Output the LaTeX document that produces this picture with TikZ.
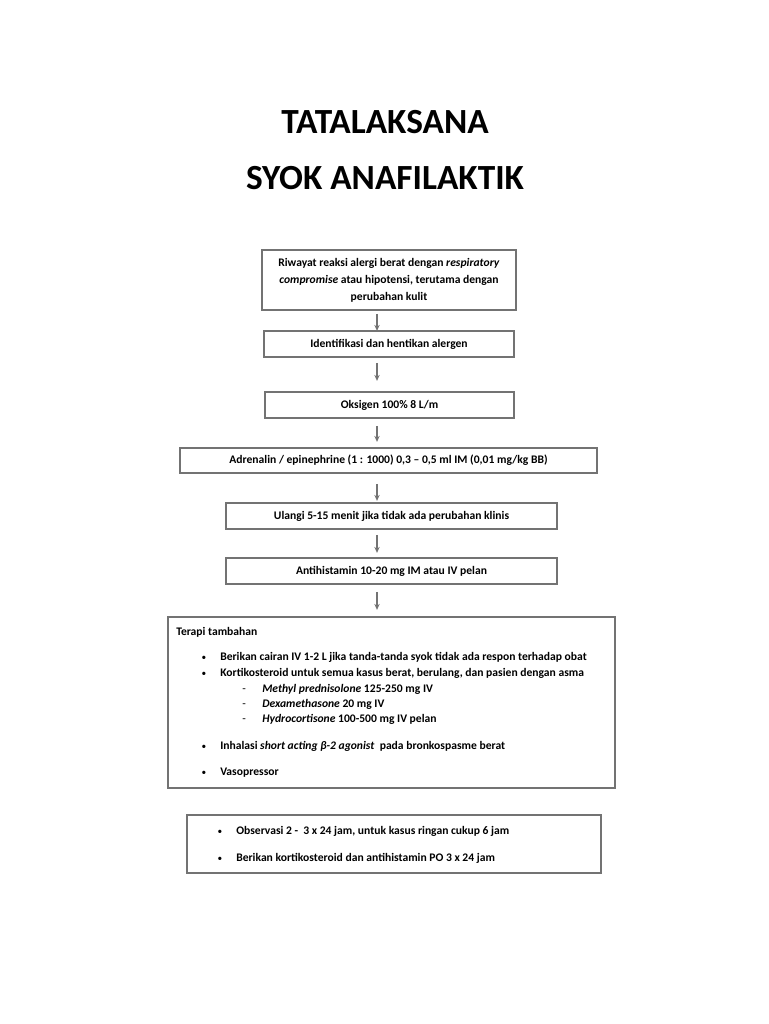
\documentclass[tikz,border=0pt]{standalone}
\usepackage{fontspec}
\setmainfont{Carlito}
\usetikzlibrary{arrows.meta}

\newcommand{\blt}{\makebox[15pt][l]{\hspace{1pt}\fontsize{7}{8}\selectfont\mdseries\textbullet}}
\newcommand{\dsh}{\makebox[15pt][l]{\mdseries -}}

\begin{document}
\begin{tikzpicture}[x=0.75pt, y=-0.75pt,
    stepbox/.style={rectangle, draw=black!55, line width=1.3pt, fill=white, minimum height=19.5pt, inner sep=2pt, font=\fontsize{8.7}{12.75}\selectfont\bfseries},
    line/.style={anchor=west, inner sep=0pt, font=\fontsize{8.7}{12.75}\selectfont\bfseries},
    flow/.style={-{Stealth[length=4.5pt, width=4pt]}, draw=black!55, line width=0.8pt}]
    \useasboundingbox (0,0) rectangle (768,1024);

    % judul
    \node[font=\fontsize{26.5}{30}\selectfont\bfseries] (judul1) at (385,122) {TATALAKSANA};
    \node[font=\fontsize{26.5}{30}\selectfont\bfseries] (judul2) at (385,178) {SYOK ANAFILAKTIK};

    % langkah
    \node[stepbox, minimum width=190.5pt, minimum height=45pt, align=center] (riwayat) at (389,280) {Riwayat reaksi alergi berat dengan \textit{respiratory}\\ \textit{compromise} atau hipotensi, terutama dengan\\ perubahan kulit};
    \node[stepbox, minimum width=187.5pt] (alergen) at (389,344) {Identifikasi dan hentikan alergen};
    \node[stepbox, minimum width=186.75pt] (oksigen) at (389.5,405) {Oksigen 100\% 8 L/m};
    \node[stepbox, minimum width=312.75pt, minimum height=18.75pt] (adrenalin) at (388.5,460.5) {Adrenalin / epinephrine (1 : 1000) 0,3 -- 0,5 ml IM (0,01 mg/kg BB)};
    \node[stepbox, minimum width=248.25pt] (ulangi) at (391.5,516) {Ulangi 5-15 menit jika tidak ada perubahan klinis};
    \node[stepbox, minimum width=248.25pt] (antihis) at (391.5,571) {Antihistamin 10-20 mg IM atau IV pelan};
    \node[stepbox, minimum width=335.25pt, minimum height=128.25pt] (terapi) at (391.5,702.5) {};
    \node[stepbox, minimum width=310.5pt, minimum height=43.5pt] (observasi) at (394,844) {};

    % isi terapi tambahan
    \node[line] (t0) at (176,632) {Terapi tambahan};
    \node[line] (t1) at (200,657) {\blt Berikan cairan IV 1-2 L jika tanda-tanda syok tidak ada respon terhadap obat};
    \node[line] (t2) at (200,673) {\blt Kortikosteroid untuk semua kasus berat, berulang, dan pasien dengan asma};
    \node[line] (t3) at (242,689) {\dsh\textit{Methyl prednisolone} 125-250 mg IV};
    \node[line] (t4) at (242,704) {\dsh\textit{Dexamethasone} 20 mg IV};
    \node[line] (t5) at (242,719) {\dsh\textit{Hydrocortisone} 100-500 mg IV pelan};
    \node[line] (t6) at (200,746) {\blt Inhalasi \textit{short acting β-2 agonist}\ \ pada bronkospasme berat};
    \node[line] (t7) at (200,773) {\blt Vasopressor};

    % isi observasi
    \node[line] (o1) at (216,831) {\blt Observasi 2 -\ \ 3 x 24 jam, untuk kasus ringan cukup 6 jam};
    \node[line] (o2) at (216,858) {\blt Berikan kortikosteroid dan antihistamin PO 3 x 24 jam};

    % panah
    \coordinate (ax) at (377,0);
    \draw[flow] (riwayat.south -| ax) ++(0,3) -- ++(0,17);
    \draw[flow] (alergen.south -| ax) ++(0,5) -- ++(0,18);
    \draw[flow] (oksigen.south -| ax) ++(0,7) -- ++(0,16);
    \draw[flow] (adrenalin.south -| ax) ++(0,10) -- ++(0,17);
    \draw[flow] (ulangi.south -| ax) ++(0,5) -- ++(0,18);
    \draw[flow] (antihis.south -| ax) ++(0,7) -- ++(0,18);
\end{tikzpicture}
\end{document}
